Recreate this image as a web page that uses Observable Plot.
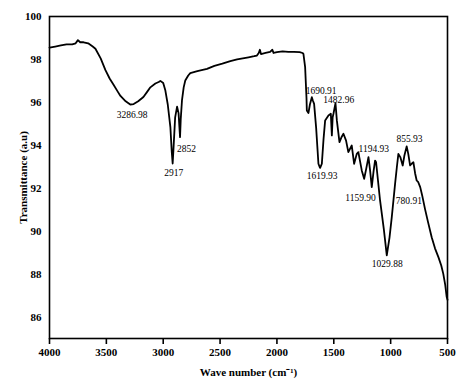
<!DOCTYPE html>
<html>
<head>
<meta charset="utf-8">
<script src="https://cdn.jsdelivr.net/npm/d3@7"></script>
<script src="https://cdn.jsdelivr.net/npm/@observablehq/plot@0.6"></script>
<style>
  html, body { margin: 0; padding: 0; background: #fff; }
  svg { display: block; }
</style>
</head>
<body>
<div id="chart"></div>
<script>
// FTIR spectrum: wavenumber (cm^-1) and transmittance (a.u)
const wavenumber = [4000,3950,3900,3850,3800,3770,3750,3730,3700,3660,3620,3596,3550,3508,3470,3438,3400,3376,3330,3290,3260,3220,3174,3140,3113,3069,3040,3025,3000,2981,2960,2937,2925,2917,2910,2895,2878,2865,2857,2852,2846,2835,2820,2806,2780,2762,2700,2615,2550,2480,2410,2350,2300,2250,2200,2176,2160,2150,2140,2100,2060,2040,2030,2000,1950,1900,1850,1800,1775,1767,1752,1740,1737,1723,1710,1693,1685,1673,1655,1635,1625,1620,1612,1605,1590,1576,1547,1526,1517,1510,1503,1485,1473,1450,1430,1415,1392,1372,1342,1321,1298,1284,1254,1233,1215,1195,1180,1166,1150,1137,1128,1093,1060,1034,1010,990,961,945,932,915,894,880,859,845,829,815,800,785,771,757,740,720,698,670,639,610,580,555,537,520,507,500];
const transmittance = [98.55,98.6,98.65,98.7,98.7,98.75,98.9,98.8,98.8,98.75,98.6,98.5,98.05,97.5,97.1,96.83,96.5,96.3,96.05,95.9,95.92,96.05,96.25,96.5,96.7,96.88,96.95,97.0,96.9,96.55,95.9,94.85,93.7,93.15,93.8,95.3,95.8,95.5,94.8,94.38,95.2,96.09,96.7,97.02,97.25,97.36,97.45,97.56,97.7,97.8,97.92,98.0,98.05,98.1,98.15,98.18,98.3,98.45,98.25,98.3,98.35,98.45,98.3,98.34,98.38,98.35,98.35,98.34,98.3,98.26,97.64,96.2,95.62,95.5,95.9,96.24,96.1,95.93,94.8,93.14,93.0,92.95,93.05,93.14,94.3,95.16,95.39,95.47,94.46,95.3,95.47,95.96,95.16,94.15,94.4,94.54,94.22,93.68,93.99,93.14,93.6,93.68,92.83,92.44,92.9,93.45,92.8,92.05,92.8,93.29,93.21,91.43,90.1,88.87,89.7,90.65,92.2,93.0,93.6,93.45,93.06,93.5,93.95,93.6,93.06,93.14,93.21,92.7,92.36,92.28,92.05,91.6,91.04,90.4,89.72,89.2,88.79,88.4,88.01,87.5,86.93,86.8];

// Peak annotations (text) and where each label sits, in data units
const peakLabels = ["3286.98","2917","2852","1690.91","1482.96","1619.93","1194.93","1159.90","855.93","780.91","1029.88"];
const labelWavenumber = [3273,2907,2795,1611,1456,1602,1148,1265,834,840,1030];
const labelTransmittance = [95.43,92.72,93.84,96.55,96.13,92.59,93.84,91.54,94.30,91.43,88.45];

const xTicks = [4000,3500,3000,2500,2000,1500,1000,500];
const yTicks = [86,88,90,92,94,96,98,100];

const spectrum = wavenumber.map((w, i) => ({w, t: transmittance[i]}));
const labels = peakLabels.map((s, i) => ({s, w: labelWavenumber[i], t: labelTransmittance[i]}));

const chart = Plot.plot({
  width: 474,
  height: 387,
  marginLeft: 49,
  marginRight: 27,
  marginTop: 16,
  marginBottom: 49,
  style: {fontFamily: "'Liberation Serif', 'Times New Roman', serif", background: "#fff", color: "#000"},
  x: {domain: [4000, 500]},
  y: {domain: [85, 100]},
  marks: [
    Plot.frame({stroke: "#000", strokeWidth: 1.6}),
    Plot.axisX({ticks: xTicks, tickSize: 6, tickPadding: 4, fontSize: 11, fontWeight: "bold",
      tickFormat: d => String(d), strokeWidth: 1.6,
      label: "Wave number (cm⁻¹)", labelAnchor: "center", labelOffset: 37, labelArrow: "none"}),
    Plot.axisY({ticks: yTicks, tickSize: 0, tickPadding: 8, fontSize: 11, fontWeight: "bold",
      tickFormat: d => String(d),
      label: "Transmittance (a.u)", labelAnchor: "center", labelOffset: 30, labelArrow: "none"}),
    Plot.line(spectrum, {x: "w", y: "t", stroke: "#000", strokeWidth: 1.8, curve: "linear"}),
    Plot.text(labels, {x: "w", y: "t", text: "s", fontSize: 9.5, fill: "#000"})
  ]
});
document.getElementById("chart").append(chart);
</script>
</body>
</html>
